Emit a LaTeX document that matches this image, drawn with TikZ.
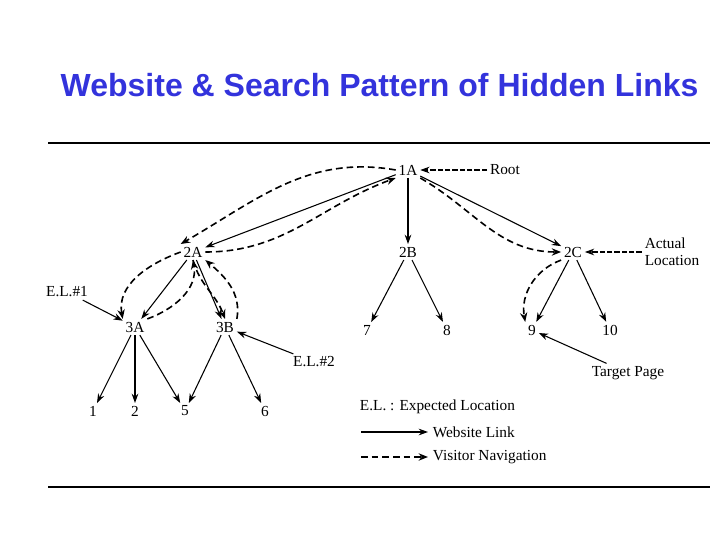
\documentclass[tikz,border=0pt]{standalone}
\usepackage{fontspec}
\setmainfont{Liberation Serif}
\newfontfamily\titlefont{Liberation Sans}
\usetikzlibrary{arrows.meta}
\definecolor{titleblue}{RGB}{51,51,220}
\begin{document}
\begin{tikzpicture}[x=0.75pt,y=-0.75pt,
    arrow/.style = {thick,-{Stealth[length=7pt,width=5pt]}},
    visit/.style = {very thick,dash pattern=on 5pt off 3pt,-{Stealth[length=7pt,width=5.5pt]}},
    page/.style = {font=\fontsize{11.5}{13}\selectfont,inner sep=2pt}]
    \useasboundingbox (0,0) rectangle (728,546);
    \node[anchor=west,text=titleblue,font=\titlefont\bfseries\fontsize{24}{28}\selectfont] (title) at (56,85) {Website \& Search Pattern of Hidden Links};
    \draw[line width=1.6pt] (48,143) -- (710,143);
    \draw[line width=1.6pt] (48,487) -- (710,487);

    \node[page] (1A) at (408,170) {1A};
    \node[page] (2A) at (193,252) {2A};
    \node[page] (2B) at (408,252) {2B};
    \node[page] (2C) at (573,252) {2C};
    \node[page] (3A) at (135,327) {3A};
    \node[page] (3B) at (225,327) {3B};
    \node[page] (n1) at (93,411) {1};
    \node[page] (n2) at (135,411) {2};
    \node[page] (n5) at (185,411) {5};
    \node[page] (n6) at (265,411) {6};
    \node[page] (n7) at (367,330) {7};
    \node[page] (n8) at (447,330) {8};
    \node[page] (n9) at (532,330) {9};
    \node[page] (n10) at (610,330) {10};

    \node[page] (root) at (505,170) {Root};
    \node[page,align=left] (actual) at (672,252) {Actual\\Location};
    \node[page] (el1) at (67,292) {E.L.\#1};
    \node[page] (el2) at (314,362) {E.L.\#2};
    \node[page] (target) at (628,373) {Target Page};

    % website links
    \draw[arrow] (1A) -- (2A);
    \draw[arrow] (1A) -- (2B);
    \draw[arrow] (1A) -- (2C);
    \draw[arrow] (2A) -- (3A);
    \draw[arrow] (2A) -- (3B);
    \draw[arrow] (2B) -- (n7);
    \draw[arrow] (2B) -- (n8);
    \draw[arrow] (2C) -- (n9);
    \draw[arrow] (2C) -- (n10);
    \draw[arrow] (3A) -- (n1);
    \draw[arrow] (3A) -- (n2);
    \draw[arrow] (3A) -- (n5);
    \draw[arrow] (3B) -- (n5);
    \draw[arrow] (3B) -- (n6);

    % visitor navigation
    \draw[visit] (1A.west) to[out=170,in=30] (2A.north west);
    \draw[visit] (2A.east) to[out=0,in=200] (1A.south west);
    \draw[visit] (1A.south east) to[out=-30,in=180] (2C.west);
    \draw[visit] (2A.west) to[out=200,in=100] (3A.north west);
    \draw[visit] (3A.north east) to[out=20,in=-80] (2A.south);
    \draw[visit] (2A.south) to[out=-75,in=110] (3B.north);
    \draw[visit] (3B.north east) to[out=80,in=-40] (2A.south east);
    \draw[visit] (2C.south west) to[out=200,in=100] (n9.north west);

    % annotations
    \draw[arrow,dash pattern=on 4pt off 1.5pt] (root) -- (1A);
    \draw[arrow,dash pattern=on 4pt off 1.5pt] (actual) -- (2C);
    \draw[arrow] (el1) -- (3A);
    \draw[arrow] (el2) -- (3B);
    \draw[arrow] (target) -- (n9);

    % legend
    \node[page,anchor=west] (legel) at (357,407) {E.L. : Expected Location};
    \coordinate (lw1) at (361,432);
    \coordinate (lw2) at (428,432);
    \coordinate (lv1) at (361,457);
    \coordinate (lv2) at (428,457);
    \draw[arrow] (lw1) -- (lw2);
    \draw[visit] (lv1) -- (lv2);
    \node[page,anchor=west] (legweb) at (430,432) {Website Link};
    \node[page,anchor=west] (legvis) at (430,457) {Visitor Navigation};
\end{tikzpicture}
\end{document}
